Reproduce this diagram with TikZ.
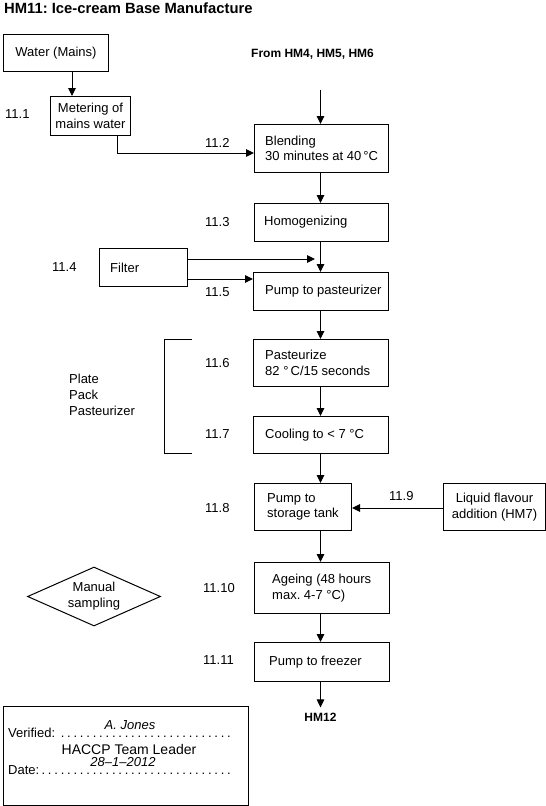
\documentclass[tikz,border=0pt]{standalone}
\usepackage{fontspec}
\setmainfont{Liberation Sans}
\usetikzlibrary{arrows.meta,shapes.geometric}
\newcommand\mydots{\leaders\hbox to 6.4pt{\hss.\hss}\hfill}
\frenchspacing
\begin{document}
\begin{tikzpicture}[x=1pt,y=-1pt,
  txt/.style={font=\fontsize{13}{15.5}\selectfont, inner sep=0pt},
  box/.style={draw, line width=1pt, rectangle, anchor=north west, inner sep=0pt},
  cbox/.style={draw, line width=1pt, rectangle, anchor=north west, inner sep=0pt, align=center, font=\fontsize{13}{15.5}\selectfont},
  arr/.style={line width=1pt, -{Triangle[length=8pt,width=7.5pt]}},
  ln/.style={line width=1pt},
  num/.style={txt, anchor=west}]
\useasboundingbox (0,0) rectangle (546,806);

% title
\node[anchor=base west, inner sep=0pt, font=\fontsize{14.8}{17}\selectfont\bfseries] (title) at (4,13) {HM11: Ice-cream Base Manufacture};
\node[anchor=base west, inner sep=0pt, font=\fontsize{12}{14}\selectfont\bfseries] (from) at (251,57) {From HM4, HM5, HM6};

% boxes
\node[cbox, minimum width=105pt, minimum height=37pt] (water) at (3,34) {Water (Mains)};
\node[cbox, minimum width=80pt, minimum height=39pt] (meter) at (50,96) {Metering of\\mains water};

\node[box, minimum width=134pt, minimum height=48pt] (blend) at (254,124) {};
\node[txt, anchor=west, align=left] (blendt) at ([xshift=11pt]blend.west) {Blending\\30 minutes at 40\,°C};

\node[box, minimum width=134pt, minimum height=38pt] (homog) at (254,203) {};
\node[txt, anchor=west] (homogt) at ([xshift=10pt]homog.west) {Homogenizing};

\node[box, minimum width=88pt, minimum height=38pt] (filter) at (99,248) {};
\node[txt, anchor=west] (filtert) at ([xshift=11pt]filter.west) {Filter};

\node[box, minimum width=135pt, minimum height=38pt] (pump) at (253,272) {};
\node[txt, anchor=west] (pumpt) at ([xshift=12pt]pump.west) {Pump to pasteurizer};

\node[box, minimum width=135pt, minimum height=47pt] (past) at (253,339) {};
\node[txt, anchor=west, align=left] (pastt) at ([xshift=12pt]past.west) {Pasteurize\\82 °\,C/15 seconds};

\node[box, minimum width=135pt, minimum height=37pt] (cool) at (253,416) {};
\node[txt, anchor=west] (coolt) at ([xshift=12pt]cool.west) {Cooling to < 7 °C};

\node[box, minimum width=97pt, minimum height=47pt] (stor) at (254,483) {};
\node[txt, anchor=west, align=left] (stort) at ([xshift=13pt]stor.west) {Pump to\\storage tank};

\node[cbox, minimum width=102pt, minimum height=47pt] (flav) at (443,483) {Liquid flavour\\addition (HM7)};

\node[box, minimum width=135pt, minimum height=51pt] (age) at (254,562) {};
\node[txt, anchor=west, align=left] (aget) at ([xshift=18pt]age.west) {Ageing (48 hours\\max. 4-7 °C)};

\node[box, minimum width=135pt, minimum height=39pt] (frz) at (254,642) {};
\node[txt, anchor=west] (frzt) at ([xshift=15pt]frz.west) {Pump to freezer};

\node[draw, line width=1pt, diamond, aspect=2.25, minimum width=133pt, minimum height=59pt, inner sep=0pt, align=center, font=\fontsize{13}{16}\selectfont] (manual) at (94,596.5) {Manual\\sampling};

\node[anchor=base, inner sep=0pt, font=\fontsize{12}{14}\selectfont\bfseries] (hm12) at (320.5,721) {HM12};

% numbers
\node[num] (n1) at (5,114) {11.1};
\node[num] (n2) at (205,143) {11.2};
\node[num] (n3) at (205,222) {11.3};
\node[num] (n4) at (52,267) {11.4};
\node[num] (n5) at (205,292) {11.5};
\node[num] (n6) at (205,363) {11.6};
\node[num] (n7) at (205,434) {11.7};
\node[num] (n8) at (205,508) {11.8};
\node[num] (n9) at (389,496) {11.9};
\node[num] (n10) at (203,588) {11.10};
\node[num] (n11) at (203,660) {11.11};

% plate pack pasteurizer
\node[txt, anchor=west, align=left, font=\fontsize{13}{16}\selectfont] (ppp) at (69,395) {Plate\\Pack\\Pasteurizer};
\draw[ln] (192,339) -- (164,339) -- (164,453) -- (192,453);

% connectors
\coordinate (vx) at (320.5,0);
\coordinate (wx) at (72,0);
\coordinate (mx) at (117,0);
\coordinate (j1) at (0,153);
\coordinate (src) at (320.5,90);
\coordinate (f1) at (0,259);
\coordinate (f2) at (0,279);
\coordinate (f1end) at (315,259);
\coordinate (j9) at (0,508);

\draw[arr] (water.south -| wx) -- (meter.north -| wx);
\draw[arr] (meter.south -| mx) |- (blend.west |- j1);
\draw[arr] (src) -- (blend.north -| vx);
\draw[arr] (blend.south -| vx) -- (homog.north -| vx);
\draw[arr] (homog.south -| vx) -- (pump.north -| vx);
\draw[arr] (filter.east |- f1) -- (f1end);
\draw[arr] (filter.east |- f2) -- (pump.west |- f2);
\draw[arr] (pump.south -| vx) -- (past.north -| vx);
\draw[arr] (past.south -| vx) -- (cool.north -| vx);
\draw[arr] (cool.south -| vx) -- (stor.north -| vx);
\draw[arr] (flav.west |- j9) -- (stor.east |- j9);
\draw[arr] (stor.south -| vx) -- (age.north -| vx);
\draw[arr] (age.south -| vx) -- (frz.north -| vx);
\draw[arr] (frz.south -| vx) -- ([yshift=5pt]hm12.north);

% verification box
\node[box, minimum width=245pt, minimum height=99pt] (verif) at (3,706) {};
\node[txt, anchor=base west, text width=225pt, align=left] (verl) at (8,737) {Verified:\mydots\mbox{}};
\node[txt, anchor=base west, text width=225pt, align=left] (datel) at (8,774) {Date:\mydots\mbox{}};
\node[txt, anchor=base, font=\fontsize{13}{15.5}\selectfont\itshape] (jones) at (130,729) {A. Jones};
\node[txt, anchor=base, font=\fontsize{14}{16}\selectfont] (haccp) at (129,754) {HACCP Team Leader};
\node[txt, anchor=base, font=\fontsize{13}{15.5}\selectfont\itshape] (dt) at (123,766) {28–1–2012};
\end{tikzpicture}
\end{document}
